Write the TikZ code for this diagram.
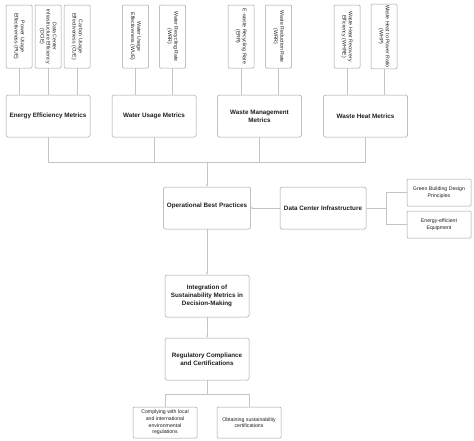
\documentclass[tikz,border=0pt]{standalone}
\usepackage{fontspec}
\setmainfont{Liberation Sans}
\usetikzlibrary{arrows.meta}
\definecolor{boxgray}{HTML}{A0A0A0}
\definecolor{linegray}{HTML}{C4C4C4}
\definecolor{textgray}{HTML}{1E1E1E}

\begin{document}
\begin{tikzpicture}[x=1pt,y=-1pt,
	box/.style={draw=boxgray, line width=0.5pt, rounded corners=1.5pt, minimum width=84pt, minimum height=42pt, align=center, font=\fontsize{6.3}{8}\selectfont\bfseries, text=textgray},
	metric/.style={draw=boxgray, line width=0.5pt, rounded corners=1pt, rotate=-90, minimum width=63pt, minimum height=26pt, inner sep=1pt, align=center, font=\fontsize{5.2}{6.2}\selectfont, text=textgray},
	leaf/.style={draw=boxgray, line width=0.5pt, rounded corners=1pt, minimum width=64pt, minimum height=27pt, inner sep=1pt, align=center, font=\fontsize{5.2}{6.6}\selectfont, text=textgray},
	link/.style={draw=linegray, line width=0.6pt},
	arrow/.style={link, -{Stealth[length=2.5pt,width=2.2pt]}}]
	\useasboundingbox (0,0) rectangle (474,440);

	\node[metric] (pue) at (19,36.5) {Power Usage\\Effectiveness (PUE)};
	\node[metric] (dcie) at (48,36.5) {Data Center\\Infrastructure Efficiency\\(DCiE)};
	\node[metric] (cue) at (77,36.5) {Carbon Usage\\Effectiveness (CUE)};
	\node[metric] (wue) at (135.5,36.5) {Water Usage\\Effectiveness (WUE)};
	\node[metric] (wrr) at (172.5,36.5) {Water Recycling Rate\\(WRR)};
	\node[metric] (err) at (241,36.5) {E-waste Recycling Rate\\(ERR)};
	\node[metric] (wred) at (278.5,36.5) {Waste Reduction Rate\\(WRR)};
	\node[metric] (whre) at (347,36.5) {Waste Heat Recovery\\Efficiency (WHRE)};
	\node[metric] (whp) at (384,36.5) {Waste Heat to Power Ratio\\(WHP)};

	\node[box] (energy) at (48,116) {Energy Efficiency Metrics};
	\node[box] (water) at (154,116) {Water Usage Metrics};
	\node[box] (wastem) at (259.5,116) {Waste Management\\Metrics};
	\node[box] (heat) at (365.5,116) {Waste Heat Metrics};

	\node[box] (ops) at (207,208) {Operational Best Practices\\[-2pt]\mbox{}};
	\node[box, minimum width=86pt] (dci) at (323,208) {Data Center Infrastructure};
	\node[leaf] (green) at (439,192.5) {Green Building Design\\Principles};
	\node[leaf] (equip) at (439,224.5) {Energy-efficient\\Equipment};

	\node[box] (integ) at (207,296) {Integration of\\Sustainability Metrics in\\Decision-Making};
	\node[box] (reg) at (207,359) {Regulatory Compliance\\and Certifications};
	\node[leaf, minimum height=31pt] (comp) at (165,422.5) {Complying with local\\and international\\environmental\\regulations};
	\node[leaf, minimum height=31pt] (obt) at (249,422.5) {Obtaining sustainability\\certifications};

	\foreach \m/\c in {pue/energy,dcie/energy,cue/energy,wue/water,wrr/water,err/wastem,wred/wastem,whre/heat,whp/heat}
		\draw[link] (\m.east) -- (\m.east |- \c.north);

	\coordinate (bus) at (207,162);
	\draw[link] (energy.south) -- (energy.south |- bus) -- (heat.south |- bus) -- (heat.south);
	\draw[link] (water.south) -- (water.south |- bus);
	\draw[link] (wastem.south) -- (wastem.south |- bus);
	\draw[arrow] (bus) -- (ops.north);

	\draw[arrow] (dci.west) -- (ops.east);
	\coordinate (fork) at (386,208);
	\draw[link] (dci.east) -- (fork) |- (green.west);
	\draw[link] (fork) |- (equip.west);

	\draw[arrow] (ops.south) -- (integ.north);
	\draw[arrow] (integ.south) -- (reg.north);
	\coordinate (split) at (207,394);
	\draw[link] (reg.south) -- (split) -| (comp.north);
	\draw[link] (split) -| (obt.north);
\end{tikzpicture}
\end{document}
